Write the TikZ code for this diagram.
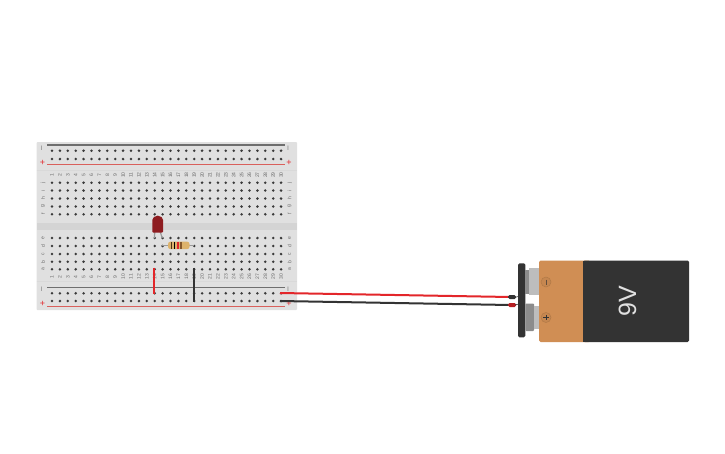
\documentclass[tikz,border=0pt]{standalone}
\usepackage{fontspec}
\setsansfont{Liberation Sans}
\usepackage{tikz}
\usetikzlibrary{calc}
\definecolor{boardgray}{HTML}{E0E0E0}
\definecolor{gapgray}{HTML}{D4D4D4}
\definecolor{holedark}{HTML}{3A3A3A}
\definecolor{railred}{HTML}{D9605C}
\definecolor{railgray}{HTML}{6E6E6E}
\definecolor{labelgray}{HTML}{6A6A6A}
\definecolor{wirered}{HTML}{E3262A}
\definecolor{wireblack}{HTML}{333333}
\definecolor{ledred}{HTML}{8E1C20}
\definecolor{legray}{HTML}{9A9A9A}
\definecolor{resbody}{HTML}{DDB36C}
\definecolor{batorange}{HTML}{D08E54}
\definecolor{batdark}{HTML}{333333}
\definecolor{termlight}{HTML}{BDBDBD}
\definecolor{termmid}{HTML}{8C8C8C}
\tikzset{
	hole/.style={circle, fill=holedark, inner sep=0pt, minimum size=2.8pt},
	tinylabel/.style={rotate=90, text=labelgray, inner sep=0pt, font=\sffamily\fontsize{5}{6}\selectfont},
	railminus/.style={text=railgray, inner sep=0pt, rotate=90, font=\sffamily\fontsize{8}{8}\selectfont},
	railplus/.style={text=wirered, inner sep=0pt, font=\sffamily\fontsize{9}{9}\selectfont},
	jumper/.style={line width=2pt},
	longwire/.style={line width=2pt},
	band/.style={line width=1.3pt},
}
\begin{document}
\begin{tikzpicture}[x=1pt, y=-1pt]
	\useasboundingbox (0,0) rectangle (725,453);
	\fill[white] (0,0) rectangle (725,453);
	\fill[boardgray, rounded corners=1pt] (36.5,142) rectangle (297,310);
	\fill[gapgray] (36.5,222.5) rectangle (297,230);
	\draw[gapgray!60!boardgray, line width=0.6pt] (36.5,170) -- (297,170) (36.5,281.5) -- (297,281.5);
	\draw[railgray, line width=1.2pt] (47,145) -- (285,145) (47,287.3) -- (285,287.3);
	\draw[railred, line width=1.2pt] (47,164.3) -- (285,164.3) (47,306.3) -- (285,306.3);
	\foreach \col in {1,...,30} {
		\pgfmathsetmacro{\colx}{52+(\col-1)*7.9}
		\foreach \rowy in {150.7,159,182.7,190.5,198.5,206.5,214.3,238,246,254,261.7,269.3,293.3,301}
			\node[hole] at (\colx,\rowy) {};
		\node[tinylabel] at (\colx,175) {\col};
		\node[tinylabel] at (\colx,276.7) {\col};
	}
	\foreach \letter/\rowy in {j/182.7,i/190.5,h/198.5,g/206.5,f/214.3,e/238,d/246,c/254,b/261.7,a/269.3} {
		\node[tinylabel] at (43,\rowy) {\letter};
		\node[tinylabel] at (289.5,\rowy) {\letter};
	}
	\foreach \railx in {42.5,289} {
		\node[railminus] at (\railx,148) {--};
		\node[railplus] at (\railx,162.5) {+};
		\node[railminus] at (\railx,289.5) {--};
		\node[railplus] at (\railx,304) {+};
	}

	\coordinate (red-a) at (154.3,268.3);
	\coordinate (red-b) at (154.3,294);
	\coordinate (black-a) at (194,268.3);
	\coordinate (black-b) at (194,301.7);
	\draw[jumper, wirered] (red-a) -- (red-b);
	\draw[jumper, wireblack] (black-a) -- (black-b);

	\coordinate (res-l) at (161.7,245.3);
	\coordinate (res-r) at (194,245.3);
	\draw[legray, line width=1.3pt] (res-l) -- (res-r);
	\fill[resbody, rounded corners=2.5pt] (168,241.6) rectangle (189.5,249.2);
	\draw[band, black!60!brown] (171.5,241.8) -- (171.5,249);
	\draw[band, black] (174.5,241.8) -- (174.5,249);
	\draw[band, wirered] (178,241.8) -- (178,249);
	\draw[band, black!30!brown] (181,241.8) -- (181,249);

	\coordinate (led-a) at (154.3,238);
	\coordinate (led-c) at (162.3,238);
	\draw[legray, line width=1.2pt] (155,230) -- (led-a) (159.5,230) -- (led-c);
	\fill[ledred, rounded corners=1pt] (152.3,232.6) -- (152.3,221) arc (180:360:5.4) -- (163.1,232.6) -- cycle;

	\fill[batdark, rounded corners=1.5pt] (518,263.3) rectangle (525.3,337.3);
	\fill[termmid] (525.3,270) rectangle (530,293.5);
	\fill[termlight] (529,268) rectangle (539.5,295);
	\fill[termmid, rounded corners=1pt] (525.3,303.5) rectangle (534,331);
	\fill[termlight] (534,306) rectangle (539.5,329);
	\fill[batorange, rounded corners=1.5pt] (539,260.5) rectangle (590,342);
	\fill[batdark, rounded corners=1.5pt] (583,260.5) rectangle (689,342);
	\fill[batdark] (583,260.5) rectangle (590,342);
	\draw[batorange!85!black, line width=0.5pt, fill=batorange!95!black] (546,282) circle (5);
	\draw[batorange!85!black, line width=0.5pt, fill=batorange!95!black] (546,317.5) circle (5);
	\draw[batdark!70!batorange, line width=0.7pt] (546,279.5) -- (546,284.5);
	\draw[batdark, line width=0.7pt] (543.3,317.5) -- (548.7,317.5) (546,314.8) -- (546,320.2);
	\node[rotate=90, text=white!88!black, inner sep=0pt, font=\sffamily\fontsize{25}{25}\selectfont] (label-9v) at (627.5,301) {9V};

	\coordinate (bat-red) at (510,297);
	\coordinate (bat-black) at (510,305);
	\coordinate (start-red) at (280,293);
	\coordinate (start-black) at (280,301);
	\draw[longwire, wirered] (start-red) -- (bat-red);
	\draw[longwire, wireblack] (start-black) -- (bat-black);
	\fill[batdark, rounded corners=1.5pt] (508,295.2) rectangle (516,299);
	\fill[wirered!80!black, rounded corners=1.5pt] (508,303) rectangle (516,307);
	\draw[batdark, line width=0.6pt] (515,297.2) -- (518,296.6);
	\draw[batdark, line width=0.6pt] (515,305) -- (518,304.2);
\end{tikzpicture}
\end{document}
